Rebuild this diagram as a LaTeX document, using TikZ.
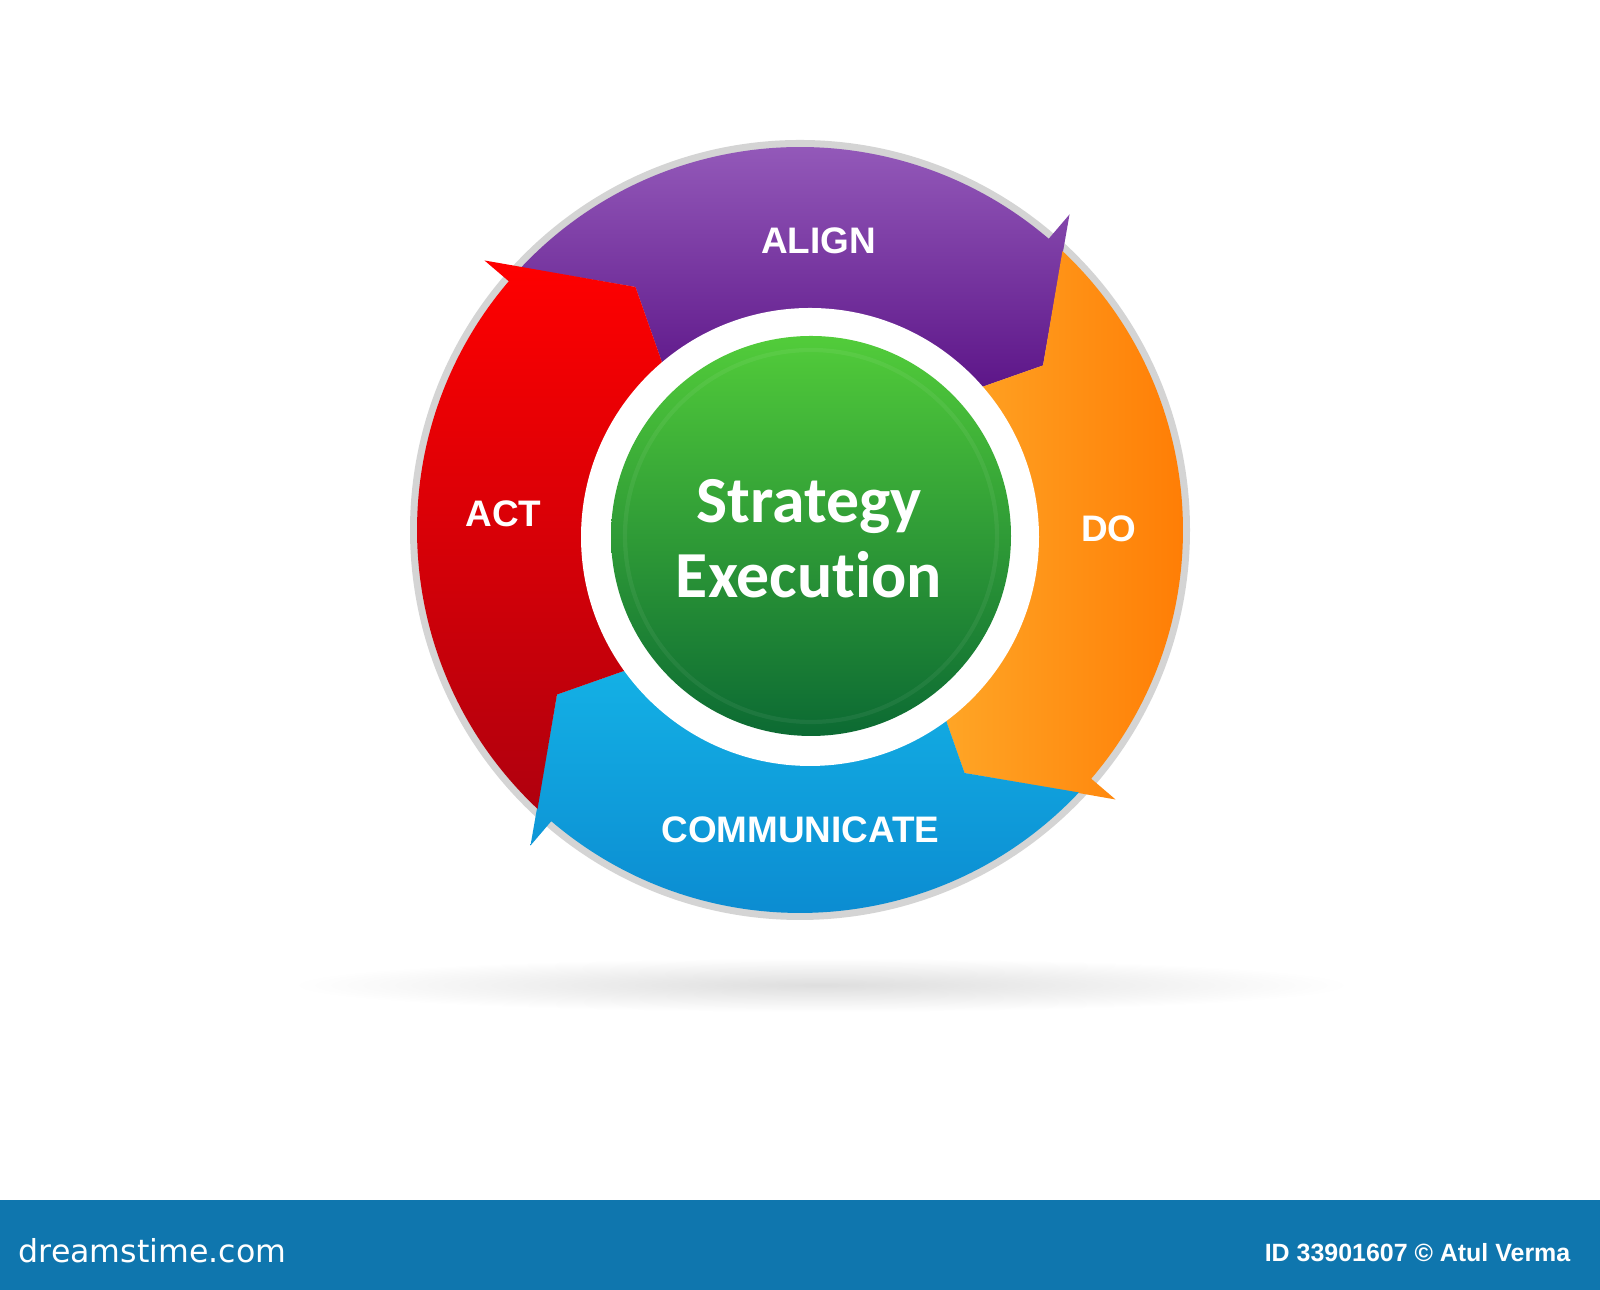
\documentclass[tikz,border=0pt]{standalone}
\usepackage{fontspec}
\setmainfont{Liberation Sans}
\newfontfamily\calfont[RawFeature={-liga}]{Carlito}
\newfontfamily\logofont{DejaVu Sans}
\definecolor{ringgray}{HTML}{D4D4D4}
\definecolor{barblue}{HTML}{0F76AE}
\definecolor{purpleA}{HTML}{9C64C1}
\definecolor{purpleB}{HTML}{5A1286}
\definecolor{orangeA}{HTML}{FFA828}
\definecolor{orangeB}{HTML}{FF7700}
\definecolor{blueA}{HTML}{14B2E6}
\definecolor{blueB}{HTML}{0A86CE}
\definecolor{redA}{HTML}{FF0000}
\definecolor{redB}{HTML}{B0000E}
\definecolor{greenA}{HTML}{52CC3A}
\definecolor{greenB}{HTML}{0C6A33}
% arrow band: #1 = own barb angle, #2 = barb angle of the previous arrow
\newcommand\arrowband[2]{({#2-2.76}:383) -- ({#2-15.4}:293.5) -- ({#2-7.4}:193)
  arc[start angle={#2-7.4}, end angle={#1-7.4}, radius=193]
  -- ({#1-15.4}:293.5) -- (#1:415) -- (#1:383)
  arc[start angle={#1}, end angle={#2-2.76}, radius=383] -- cycle}
\tikzset{
  cyclelabel/.style={text=white, font=\fontsize{10.5pt}{12pt}\selectfont\bfseries, inner sep=0pt, anchor=base},
  centerlabel/.style={text=white, font=\calfont\fontsize{18.7pt}{21pt}\selectfont\bfseries, inner sep=0pt, anchor=base},
  barlabel/.style={text=white, inner sep=0pt}
}
\begin{document}
\begin{tikzpicture}[x=0.1mm,y=0.1mm]
\useasboundingbox (0,0) rectangle (1600,1290);
\fill[white] (0,0) rectangle (1600,1290);
% soft shadow
\shade[inner color=black!13, outer color=white] (821,305) ellipse [x radius=530, y radius=27];
% bottom bar
\fill[barblue] (0,0) rectangle (1600,90);
\node[barlabel, anchor=base west, font=\logofont\fontsize{9pt}{10pt}\selectfont] (logo) at (18,27) {dreamstime.com};
\node[barlabel, anchor=base east, font=\fontsize{7.1pt}{8pt}\selectfont\bfseries] (credit) at (1571,28) {ID 33901607 © Atul Verma};
% cycle
\begin{scope}[shift={(800,760)}]
  \fill[ringgray] (0,0) circle [radius=390];
  \path[top color=purpleA, bottom color=purpleB] \arrowband{49.5}{139.5};
  \path[left color=orangeA, right color=orangeB] \arrowband{-40.5}{49.5};
  \path[top color=blueA, bottom color=blueB] \arrowband{-130.5}{-40.5};
  \path[top color=redA, bottom color=redB] \arrowband{139.5}{229.5};
\end{scope}
\fill[white] (810,753) circle [radius=229];
\path[top color=greenA, bottom color=greenB] (811,754) circle [radius=200];
\draw[white, opacity=0.06, line width=1.2pt] (811,754) circle [radius=186];
% labels
\node[cyclelabel] (align) at (818.5,1036.5) {ALIGN};
\node[cyclelabel] (act) at (503.5,763) {ACT};
\node[cyclelabel] (do) at (1109,748) {DO};
\node[cyclelabel] (comm) at (800.5,447) {COMMUNICATE};
\node[centerlabel] (strat) at (809,767.3) {Strategy};
\node[centerlabel] (exec) at (809,692.3) {Execution};
\end{tikzpicture}
\end{document}
